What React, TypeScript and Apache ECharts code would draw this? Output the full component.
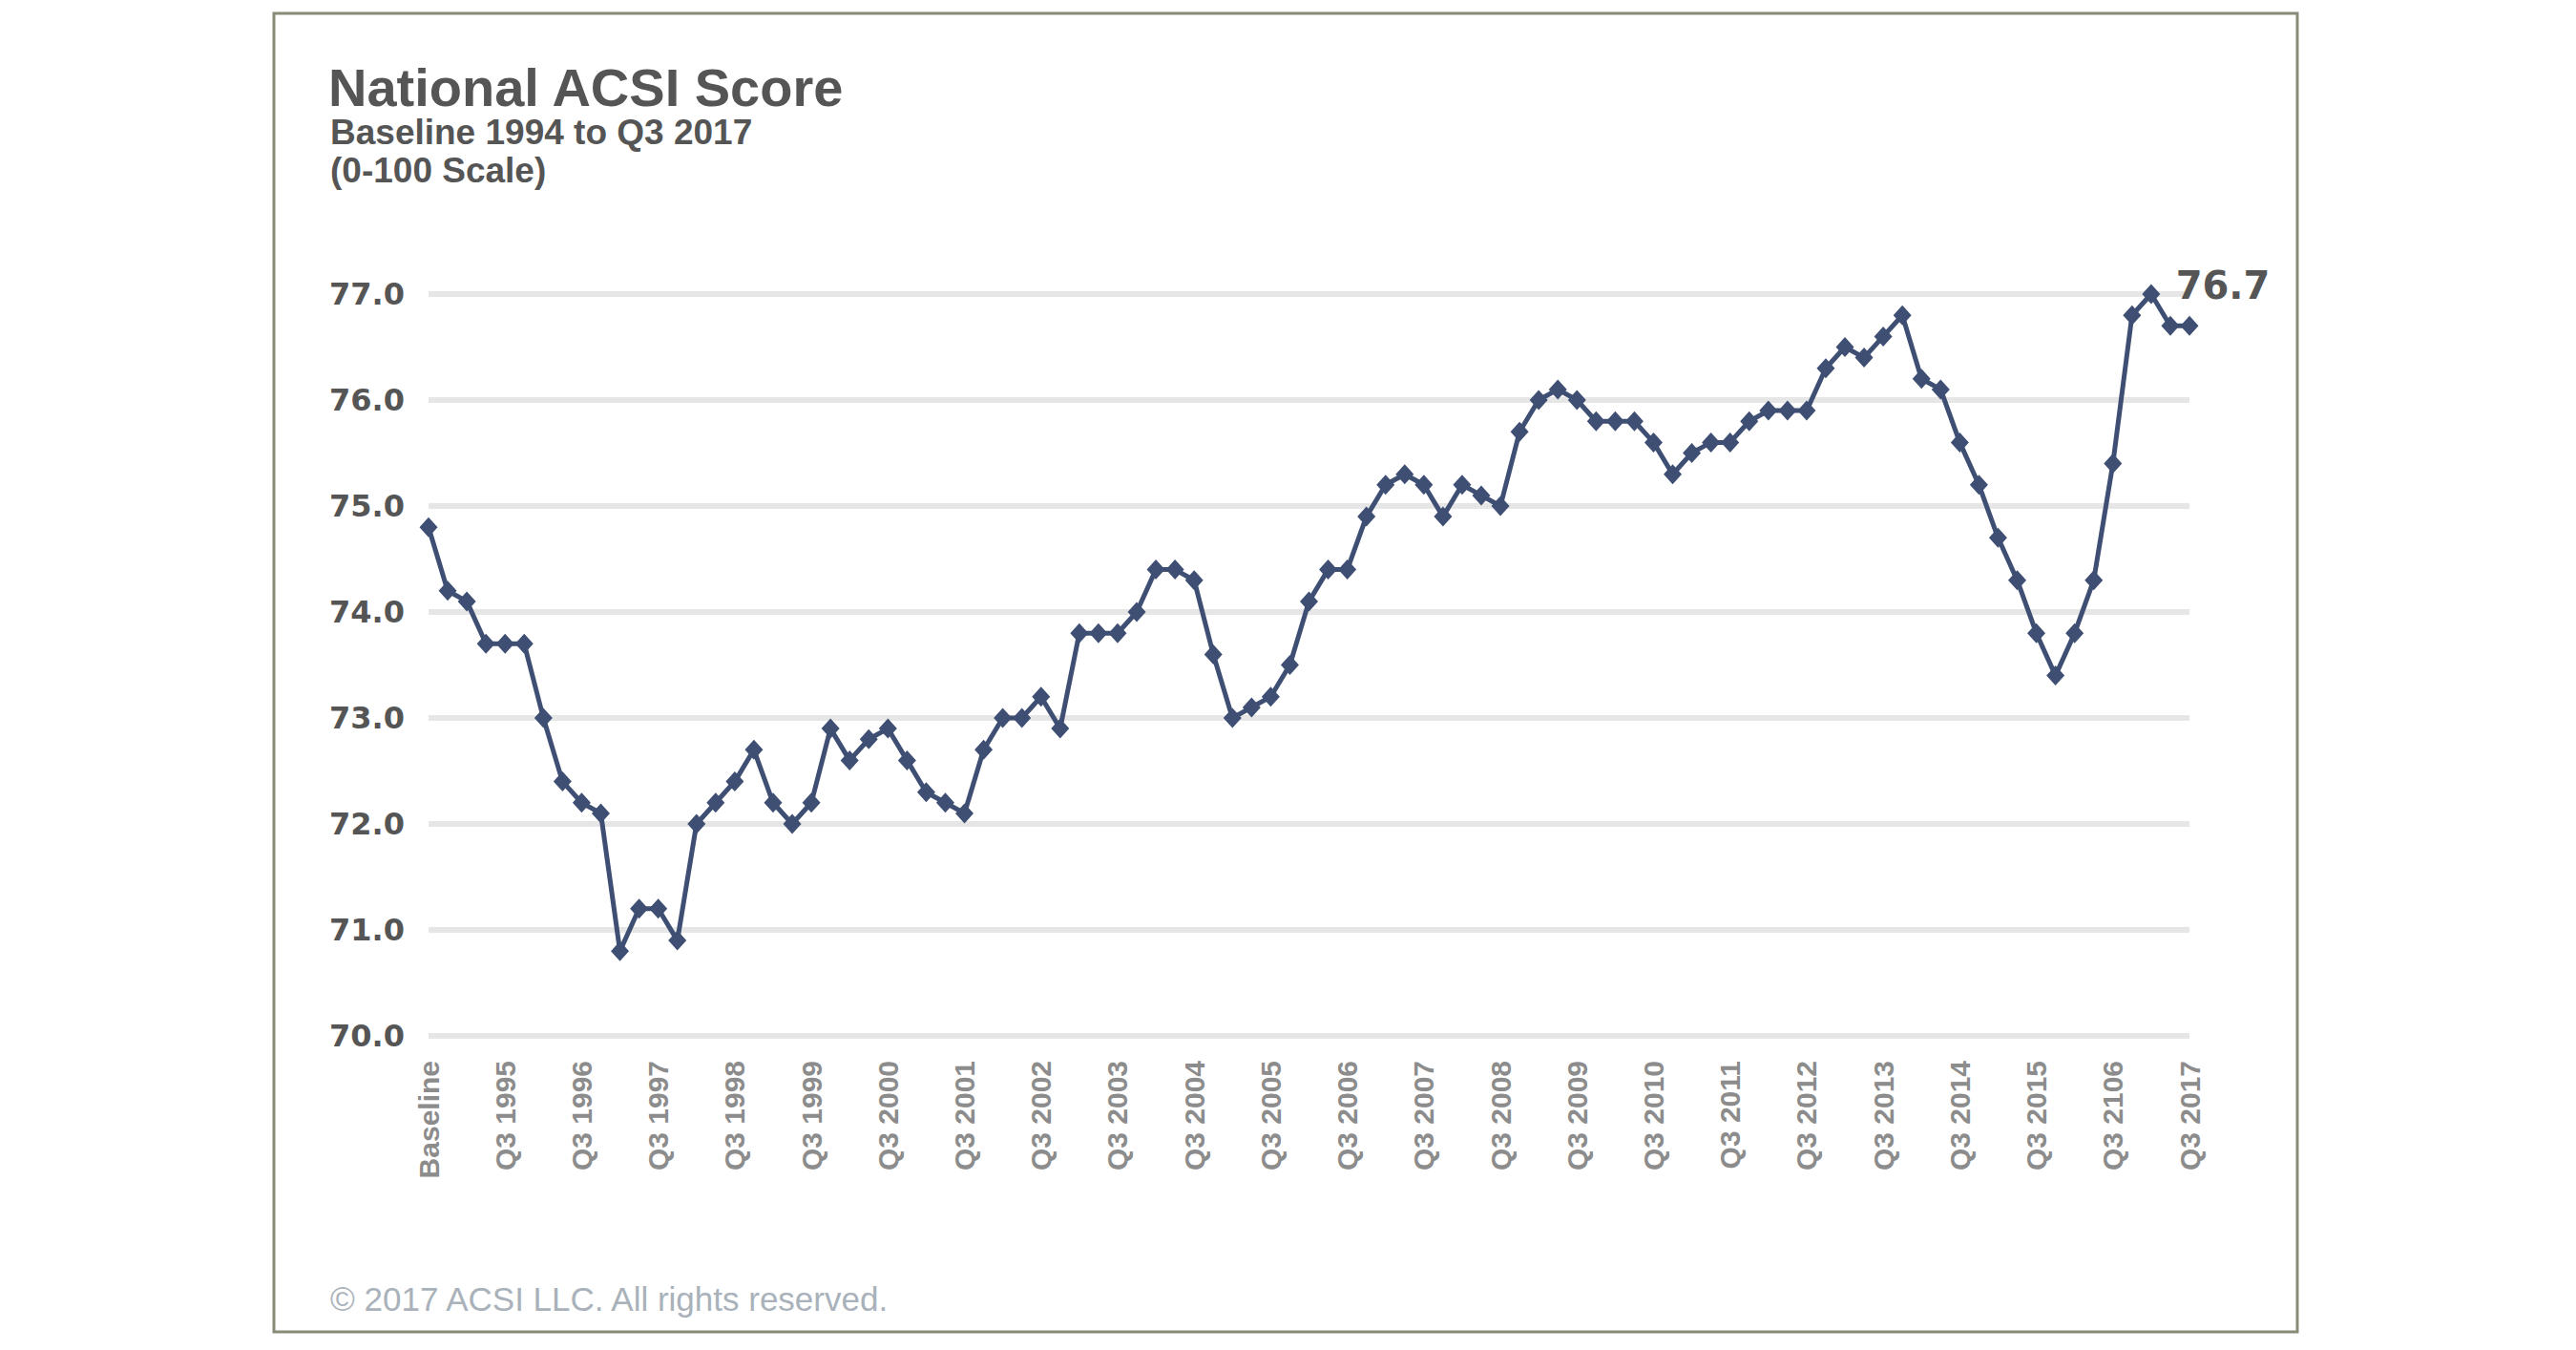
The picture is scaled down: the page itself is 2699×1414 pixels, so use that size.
import { useEffect, useRef } from 'react'
import * as echarts from 'echarts'

// tick labels as printed on the original (including the "2106" typo)
const tickLabels = [
  'Baseline', 'Q3 1995', 'Q3 1996', 'Q3 1997', 'Q3 1998', 'Q3 1999',
  'Q3 2000', 'Q3 2001', 'Q3 2002', 'Q3 2003', 'Q3 2004', 'Q3 2005',
  'Q3 2006', 'Q3 2007', 'Q3 2008', 'Q3 2009', 'Q3 2010', 'Q3 2011',
  'Q3 2012', 'Q3 2013', 'Q3 2014', 'Q3 2015', 'Q3 2106', 'Q3 2017'
]

// quarterly ACSI scores, baseline 1994 .. Q3 2017
const scores = [
  74.8, 74.2, 74.1, 73.7, 73.7, 73.7, 73.0, 72.4, 72.2, 72.1,
  70.8, 71.2, 71.2, 70.9, 72.0, 72.2, 72.4, 72.7, 72.2, 72.0,
  72.2, 72.9, 72.6, 72.8, 72.9, 72.6, 72.3, 72.2, 72.1, 72.7,
  73.0, 73.0, 73.2, 72.9, 73.8,
  73.8, 73.8, 74.0, 74.4, 74.4, 74.3, 73.6, 73.0, 73.1, 73.2,
  73.5, 74.1, 74.4, 74.4, 74.9, 75.2, 75.3, 75.2, 74.9, 75.2,
  75.1, 75.0, 75.7, 76.0, 76.1, 76.0, 75.8, 75.8, 75.8, 75.6,
  75.3, 75.5, 75.6, 75.6, 75.8, 75.9, 75.9, 75.9, 76.3, 76.5,
  76.4, 76.6, 76.8, 76.2, 76.1, 75.6, 75.2, 74.7, 74.3, 73.8,
  73.4, 73.8, 74.3, 75.4, 76.8, 77.0, 76.7, 76.7
]

const yTicks = { min: 70, max: 77, step: 1 }

const quarterNames = ['Q1', 'Q2', 'Q3', 'Q4']
const categories = scores.map((_, i) => {
  if (i === 0) return 'Baseline'
  const q = (i + 2) % 4
  const year = 1994 + Math.floor((i + 2) / 4)
  return `${quarterNames[q]} ${year}`
})

const lineColor = '#3e4f73'
const helv = 'Liberation Sans, Arial, Helvetica, sans-serif'

export default function App() {
  const chartRef = useRef<HTMLDivElement>(null)

  useEffect(() => {
    if (!chartRef.current) return
    const chart = echarts.init(chartRef.current, undefined, { renderer: 'svg' })

    const option: echarts.EChartsOption = {
      animation: false,
      backgroundColor: '#ffffff',
      title: [
        {
          text: 'National ACSI Score',
          left: 344,
          top: 64,
          padding: 0,
          textStyle: { fontFamily: helv, fontWeight: 'bold', fontSize: 56, lineHeight: 54, color: '#555555' }
        },
        {
          text: 'Baseline 1994 to Q3 2017',
          left: 346,
          top: 120,
          padding: 0,
          textStyle: { fontFamily: helv, fontWeight: 'bold', fontSize: 37, lineHeight: 36, color: '#555555' }
        },
        {
          text: '(0-100 Scale)',
          left: 346,
          top: 160,
          padding: 0,
          textStyle: { fontFamily: helv, fontWeight: 'bold', fontSize: 37, lineHeight: 36, color: '#555555' }
        },
        {
          text: '© 2017 ACSI LLC. All rights reserved.',
          left: 346,
          top: 1343,
          padding: 0,
          textStyle: { fontFamily: helv, fontWeight: 'normal', fontSize: 35, color: '#a9b2ba' }
        }
      ],
      graphic: [
        {
          type: 'rect',
          silent: true,
          shape: { x: 287, y: 14, width: 2120, height: 1381 },
          style: { fill: 'none', stroke: '#878b78', lineWidth: 3 }
        }
      ],
      grid: { left: 449, right: 405, top: 308, bottom: 329 },
      xAxis: {
        type: 'category',
        data: categories,
        boundaryGap: false,
        axisLine: { show: false },
        axisTick: { show: false },
        splitLine: { show: false },
        axisLabel: {
          interval: 3,
          rotate: 90,
          margin: 26,
          fontFamily: helv,
          fontWeight: 'bold',
          fontSize: 30,
          color: '#8c8c8c',
          formatter: (_v: string, i: number) => (i % 4 === 0 ? tickLabels[i / 4] : '')
        }
      },
      yAxis: {
        type: 'value',
        min: yTicks.min,
        max: yTicks.max,
        interval: yTicks.step,
        axisLine: { show: false },
        axisTick: { show: false },
        splitLine: { lineStyle: { color: '#e6e6e6', width: 6 } },
        axisLabel: {
          margin: 25,
          fontFamily: 'DejaVu Sans, sans-serif',
          fontWeight: 'bold',
          fontSize: 32,
          color: '#555555',
          formatter: (v: number) => v.toFixed(1)
        }
      },
      series: [
        {
          type: 'line',
          symbol: 'diamond',
          symbolSize: [19, 21],
          showAllSymbol: true,
          lineStyle: { color: lineColor, width: 5 },
          itemStyle: { color: lineColor },
          data: scores.map((v, i) =>
            i === scores.length - 1
              ? {
                  value: v,
                  label: {
                    show: true,
                    position: 'top',
                    offset: [35, -7],
                    formatter: (p: any) => Number(p.value).toFixed(1),
                    fontFamily: 'DejaVu Sans, sans-serif',
                    fontWeight: 'bold',
                    fontSize: 40,
                    color: '#555555'
                  }
                }
              : v
          )
        }
      ]
    }

    chart.setOption(option)
    return () => {
      chart.dispose()
    }
  }, [])

  return (
    <div
      ref={chartRef}
      style={{ position: 'fixed', left: 0, top: 0, width: 2699, height: 1414, background: '#ffffff' }}
    />
  )
}
